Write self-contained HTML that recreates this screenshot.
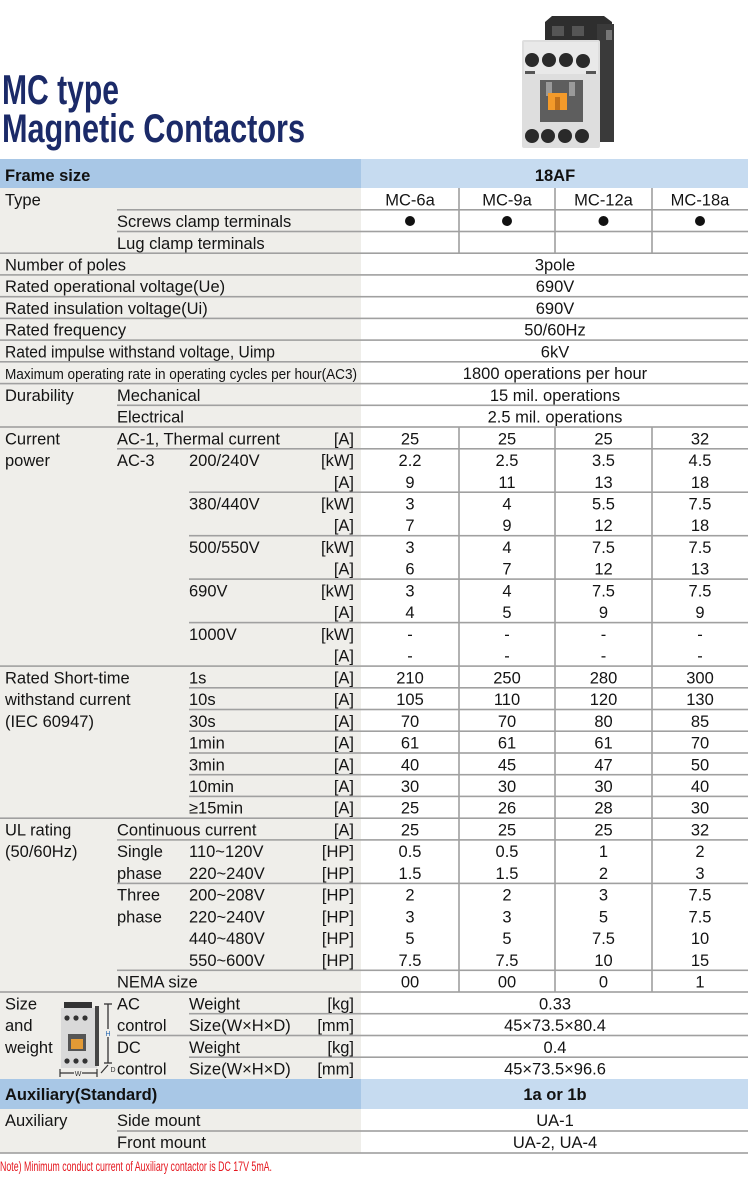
<!DOCTYPE html>
<html><head><meta charset="utf-8">
<style>
html,body{margin:0;padding:0;background:#fff;}
body{width:750px;height:1196px;overflow:hidden;}
svg{display:block;}
.t{font-family:"Liberation Sans",sans-serif;font-size:16.5px;fill:#141414;}
.c{text-anchor:middle;}
.e{text-anchor:end;}
.h{font-family:"Liberation Sans",sans-serif;font-size:16.5px;font-weight:bold;fill:#111;}
</style></head>
<body>
<svg width="750" height="1196" viewBox="0 0 750 1196" xmlns="http://www.w3.org/2000/svg">
<!-- Title -->
<text x="2" y="104" font-family="Liberation Sans, sans-serif" font-weight="bold" font-size="42" fill="#1b2a68" textLength="117" lengthAdjust="spacingAndGlyphs">MC type</text>
<text x="2" y="142" font-family="Liberation Sans, sans-serif" font-weight="bold" font-size="40" fill="#1b2a68" textLength="303" lengthAdjust="spacingAndGlyphs">Magnetic Contactors</text>

<!-- Product image -->
<g>
 <path d="M545 22 L552 16 L604 16 L612 22 L612 47 L545 47 Z" fill="#2e2e2e"/>
 <rect x="552" y="26" width="12" height="10" fill="#555"/>
 <rect x="572" y="26" width="12" height="10" fill="#555"/>
 <rect x="597" y="24" width="17" height="118" fill="#3a3a3a"/>
 <rect x="606" y="30" width="6" height="10" fill="#777"/>
 <rect x="522" y="40" width="78" height="108" fill="#dedede" rx="2"/>
 <rect x="524" y="42" width="74" height="32" fill="#e9e9e9"/>
 <circle cx="532" cy="60" r="7" fill="#2a2a2a"/>
 <circle cx="549" cy="60" r="7" fill="#2a2a2a"/>
 <circle cx="566" cy="60" r="7" fill="#2a2a2a"/>
 <circle cx="583" cy="61" r="7" fill="#2a2a2a"/>
 <rect x="525" y="71" width="10" height="3" fill="#555"/>
 <rect x="586" y="71" width="10" height="3" fill="#555"/>
 <rect x="540" y="80" width="43" height="42" fill="#5e5e5e"/>
 <rect x="546" y="82" width="6" height="14" fill="#9a9a9a"/>
 <rect x="569" y="82" width="6" height="14" fill="#9a9a9a"/>
 <rect x="548" y="93" width="19" height="17" fill="#f39a2a"/>
 <rect x="555" y="97" width="5" height="13" fill="#c0701a"/>
 <circle cx="532" cy="136" r="7" fill="#2a2a2a"/>
 <circle cx="548" cy="136" r="7" fill="#2a2a2a"/>
 <circle cx="565" cy="136" r="7" fill="#2a2a2a"/>
 <circle cx="582" cy="136" r="7" fill="#2a2a2a"/>
</g>

<!-- Frame size header -->
<rect x="0" y="159" width="361" height="29" fill="#a8c7e6"/>
<rect x="361" y="159" width="387" height="29" fill="#c6dbf0"/>
<text class="h" x="5" y="181">Frame size</text>
<text class="h c" x="555" y="181">18AF</text>

<!-- label background -->
<rect x="0" y="188" width="361" height="891" fill="#efeeea"/>
<rect x="0" y="1109" width="361" height="44" fill="#efeeea"/>

<!-- Aux header -->
<rect x="0" y="1079" width="361" height="30" fill="#a8c7e6"/>
<rect x="361" y="1079" width="387" height="30" fill="#c6dbf0"/>
<text class="h" x="5" y="1100">Auxiliary(Standard)</text>
<text class="h c" x="555" y="1100">1a or 1b</text>

<!-- horizontal lines -->
<g fill="#a0a0a0">
<rect x="117" y="209" width="631" height="1.6"/>
<rect x="117" y="230.7" width="631" height="1.6"/>
<rect x="0" y="252.4" width="748" height="1.6"/>
<rect x="0" y="274.1" width="748" height="1.6"/>
<rect x="0" y="295.9" width="748" height="1.6"/>
<rect x="0" y="317.6" width="748" height="1.6"/>
<rect x="0" y="339.3" width="748" height="1.6"/>
<rect x="0" y="361" width="748" height="1.6"/>
<rect x="0" y="382.8" width="748" height="1.6"/>
<rect x="117" y="404.5" width="631" height="1.6"/>
<rect x="0" y="426.2" width="748" height="1.6"/>
<rect x="117" y="448" width="631" height="1.6"/>
<rect x="189" y="491.4" width="559" height="1.6"/>
<rect x="189" y="534.9" width="559" height="1.6"/>
<rect x="189" y="578.3" width="559" height="1.6"/>
<rect x="189" y="621.8" width="559" height="1.6"/>
<rect x="0" y="665.3" width="748" height="1.6"/>
<rect x="189" y="687" width="559" height="1.6"/>
<rect x="189" y="708.7" width="559" height="1.6"/>
<rect x="189" y="730.4" width="559" height="1.6"/>
<rect x="189" y="752.2" width="559" height="1.6"/>
<rect x="189" y="773.9" width="559" height="1.6"/>
<rect x="189" y="795.6" width="559" height="1.6"/>
<rect x="0" y="817.4" width="748" height="1.6"/>
<rect x="117" y="839.1" width="631" height="1.6"/>
<rect x="117" y="882.6" width="631" height="1.6"/>
<rect x="117" y="969.5" width="631" height="1.6"/>
<rect x="0" y="991.2" width="748" height="1.6"/>
<rect x="189" y="1012.9" width="559" height="1.6"/>
<rect x="117" y="1034.7" width="631" height="1.6"/>
<rect x="189" y="1056.4" width="559" height="1.6"/>
<rect x="117" y="1130.2" width="631" height="1.6"/>
<rect x="0" y="1152.2" width="748" height="1.6"/>
</g>
<!-- vertical dividers -->
<g fill="#a0a0a0">
<rect x="458.2" y="188" width="1.6" height="65"/>
<rect x="554.2" y="188" width="1.6" height="65"/>
<rect x="651.2" y="188" width="1.6" height="65"/>
<rect x="458.2" y="427" width="1.6" height="565"/>
<rect x="554.2" y="427" width="1.6" height="565"/>
<rect x="651.2" y="427" width="1.6" height="565"/>
</g>

<!-- Rows -->
<g class="t">
<text class="t" x="5" y="205.3">Type</text>
<text class="t c" x="410" y="205.3">MC-6a</text>
<text class="t c" x="507" y="205.3">MC-9a</text>
<text class="t c" x="603.5" y="205.3">MC-12a</text>
<text class="t c" x="700" y="205.3">MC-18a</text>

<text class="t" x="117" y="227">Screws clamp terminals</text>
<text class="t" x="117" y="248.8">Lug clamp terminals</text>

<text class="t" x="5" y="270.5">Number of poles</text>
<text class="t c" x="555" y="270.5">3pole</text>
<text class="t" x="5" y="292.2">Rated operational voltage(Ue)</text>
<text class="t c" x="555" y="292.2">690V</text>
<text class="t" x="5" y="314">Rated insulation voltage(Ui)</text>
<text class="t c" x="555" y="314">690V</text>
<text class="t" x="5" y="335.7">Rated frequency</text>
<text class="t c" x="555" y="335.7">50/60Hz</text>
<text class="t" x="5" y="357.4" textLength="270" lengthAdjust="spacingAndGlyphs">Rated impulse withstand voltage, Uimp</text>
<text class="t c" x="555" y="357.4">6kV</text>
<text class="t" x="5" y="379.1" style="font-size:15px" textLength="352" lengthAdjust="spacingAndGlyphs">Maximum operating rate in operating cycles per hour(AC3)</text>
<text class="t c" x="555" y="379.1">1800 operations per hour</text>
<text class="t" x="5" y="400.9">Durability</text>
<text class="t" x="117" y="400.9">Mechanical</text>
<text class="t c" x="555" y="400.9">15 mil. operations</text>
<text class="t" x="117" y="422.6">Electrical</text>
<text class="t c" x="555" y="422.6">2.5 mil. operations</text>

<text class="t" x="5" y="444.3">Current</text>
<text class="t" x="117" y="444.3">AC-1, Thermal current</text>
<text class="t e" x="354" y="444.3">[A]</text>
<text class="t c" x="410" y="444.3">25</text><text class="t c" x="507" y="444.3">25</text><text class="t c" x="603.5" y="444.3">25</text><text class="t c" x="700" y="444.3">32</text>

<text class="t" x="5" y="466.1">power</text>
<text class="t" x="117" y="466.1">AC-3</text>
<text class="t" x="189" y="466.1">200/240V</text>
<text class="t e" x="354" y="466.1">[kW]</text>
<text class="t c" x="410" y="466.1">2.2</text><text class="t c" x="507" y="466.1">2.5</text><text class="t c" x="603.5" y="466.1">3.5</text><text class="t c" x="700" y="466.1">4.5</text>
<text class="t e" x="354" y="487.8">[A]</text>
<text class="t c" x="410" y="487.8">9</text><text class="t c" x="507" y="487.8">11</text><text class="t c" x="603.5" y="487.8">13</text><text class="t c" x="700" y="487.8">18</text>

<text class="t" x="189" y="509.5">380/440V</text>
<text class="t e" x="354" y="509.5">[kW]</text>
<text class="t c" x="410" y="509.5">3</text><text class="t c" x="507" y="509.5">4</text><text class="t c" x="603.5" y="509.5">5.5</text><text class="t c" x="700" y="509.5">7.5</text>
<text class="t e" x="354" y="531.2">[A]</text>
<text class="t c" x="410" y="531.2">7</text><text class="t c" x="507" y="531.2">9</text><text class="t c" x="603.5" y="531.2">12</text><text class="t c" x="700" y="531.2">18</text>

<text class="t" x="189" y="553">500/550V</text>
<text class="t e" x="354" y="553">[kW]</text>
<text class="t c" x="410" y="553">3</text><text class="t c" x="507" y="553">4</text><text class="t c" x="603.5" y="553">7.5</text><text class="t c" x="700" y="553">7.5</text>
<text class="t e" x="354" y="574.7">[A]</text>
<text class="t c" x="410" y="574.7">6</text><text class="t c" x="507" y="574.7">7</text><text class="t c" x="603.5" y="574.7">12</text><text class="t c" x="700" y="574.7">13</text>

<text class="t" x="189" y="596.4">690V</text>
<text class="t e" x="354" y="596.4">[kW]</text>
<text class="t c" x="410" y="596.4">3</text><text class="t c" x="507" y="596.4">4</text><text class="t c" x="603.5" y="596.4">7.5</text><text class="t c" x="700" y="596.4">7.5</text>
<text class="t e" x="354" y="618.2">[A]</text>
<text class="t c" x="410" y="618.2">4</text><text class="t c" x="507" y="618.2">5</text><text class="t c" x="603.5" y="618.2">9</text><text class="t c" x="700" y="618.2">9</text>

<text class="t" x="189" y="639.9">1000V</text>
<text class="t e" x="354" y="639.9">[kW]</text>
<text class="t c" x="410" y="639.9">-</text><text class="t c" x="507" y="639.9">-</text><text class="t c" x="603.5" y="639.9">-</text><text class="t c" x="700" y="639.9">-</text>
<text class="t e" x="354" y="661.6">[A]</text>
<text class="t c" x="410" y="661.6">-</text><text class="t c" x="507" y="661.6">-</text><text class="t c" x="603.5" y="661.6">-</text><text class="t c" x="700" y="661.6">-</text>

<text class="t" x="5" y="683.4">Rated Short-time</text>
<text class="t" x="189" y="683.4">1s</text>
<text class="t e" x="354" y="683.4">[A]</text>
<text class="t c" x="410" y="683.4">210</text><text class="t c" x="507" y="683.4">250</text><text class="t c" x="603.5" y="683.4">280</text><text class="t c" x="700" y="683.4">300</text>
<text class="t" x="5" y="705.1">withstand current</text>
<text class="t" x="189" y="705.1">10s</text>
<text class="t e" x="354" y="705.1">[A]</text>
<text class="t c" x="410" y="705.1">105</text><text class="t c" x="507" y="705.1">110</text><text class="t c" x="603.5" y="705.1">120</text><text class="t c" x="700" y="705.1">130</text>
<text class="t" x="5" y="726.8">(IEC 60947)</text>
<text class="t" x="189" y="726.8">30s</text>
<text class="t e" x="354" y="726.8">[A]</text>
<text class="t c" x="410" y="726.8">70</text><text class="t c" x="507" y="726.8">70</text><text class="t c" x="603.5" y="726.8">80</text><text class="t c" x="700" y="726.8">85</text>
<text class="t" x="189" y="748.5">1min</text>
<text class="t e" x="354" y="748.5">[A]</text>
<text class="t c" x="410" y="748.5">61</text><text class="t c" x="507" y="748.5">61</text><text class="t c" x="603.5" y="748.5">61</text><text class="t c" x="700" y="748.5">70</text>
<text class="t" x="189" y="770.3">3min</text>
<text class="t e" x="354" y="770.3">[A]</text>
<text class="t c" x="410" y="770.3">40</text><text class="t c" x="507" y="770.3">45</text><text class="t c" x="603.5" y="770.3">47</text><text class="t c" x="700" y="770.3">50</text>
<text class="t" x="189" y="792">10min</text>
<text class="t e" x="354" y="792">[A]</text>
<text class="t c" x="410" y="792">30</text><text class="t c" x="507" y="792">30</text><text class="t c" x="603.5" y="792">30</text><text class="t c" x="700" y="792">40</text>
<text class="t" x="189" y="813.7">≥15min</text>
<text class="t e" x="354" y="813.7">[A]</text>
<text class="t c" x="410" y="813.7">25</text><text class="t c" x="507" y="813.7">26</text><text class="t c" x="603.5" y="813.7">28</text><text class="t c" x="700" y="813.7">30</text>

<text class="t" x="5" y="835.5">UL rating</text>
<text class="t" x="117" y="835.5">Continuous current</text>
<text class="t e" x="354" y="835.5">[A]</text>
<text class="t c" x="410" y="835.5">25</text><text class="t c" x="507" y="835.5">25</text><text class="t c" x="603.5" y="835.5">25</text><text class="t c" x="700" y="835.5">32</text>
<text class="t" x="5" y="857.2">(50/60Hz)</text>
<text class="t" x="117" y="857.2">Single</text>
<text class="t" x="189" y="857.2">110~120V</text>
<text class="t e" x="354" y="857.2">[HP]</text>
<text class="t c" x="410" y="857.2">0.5</text><text class="t c" x="507" y="857.2">0.5</text><text class="t c" x="603.5" y="857.2">1</text><text class="t c" x="700" y="857.2">2</text>
<text class="t" x="117" y="878.9">phase</text>
<text class="t" x="189" y="878.9">220~240V</text>
<text class="t e" x="354" y="878.9">[HP]</text>
<text class="t c" x="410" y="878.9">1.5</text><text class="t c" x="507" y="878.9">1.5</text><text class="t c" x="603.5" y="878.9">2</text><text class="t c" x="700" y="878.9">3</text>
<text class="t" x="117" y="900.7">Three</text>
<text class="t" x="189" y="900.7">200~208V</text>
<text class="t e" x="354" y="900.7">[HP]</text>
<text class="t c" x="410" y="900.7">2</text><text class="t c" x="507" y="900.7">2</text><text class="t c" x="603.5" y="900.7">3</text><text class="t c" x="700" y="900.7">7.5</text>
<text class="t" x="117" y="922.4">phase</text>
<text class="t" x="189" y="922.4">220~240V</text>
<text class="t e" x="354" y="922.4">[HP]</text>
<text class="t c" x="410" y="922.4">3</text><text class="t c" x="507" y="922.4">3</text><text class="t c" x="603.5" y="922.4">5</text><text class="t c" x="700" y="922.4">7.5</text>
<text class="t" x="189" y="944.1">440~480V</text>
<text class="t e" x="354" y="944.1">[HP]</text>
<text class="t c" x="410" y="944.1">5</text><text class="t c" x="507" y="944.1">5</text><text class="t c" x="603.5" y="944.1">7.5</text><text class="t c" x="700" y="944.1">10</text>
<text class="t" x="189" y="965.9">550~600V</text>
<text class="t e" x="354" y="965.9">[HP]</text>
<text class="t c" x="410" y="965.9">7.5</text><text class="t c" x="507" y="965.9">7.5</text><text class="t c" x="603.5" y="965.9">10</text><text class="t c" x="700" y="965.9">15</text>
<text class="t" x="117" y="987.6">NEMA size</text>
<text class="t c" x="410" y="987.6">00</text><text class="t c" x="507" y="987.6">00</text><text class="t c" x="603.5" y="987.6">0</text><text class="t c" x="700" y="987.6">1</text>

<text class="t" x="5" y="1009.3">Size</text>
<text class="t" x="117" y="1009.3">AC</text>
<text class="t" x="189" y="1009.3">Weight</text>
<text class="t e" x="354" y="1009.3">[kg]</text>
<text class="t c" x="555" y="1009.3">0.33</text>
<text class="t" x="5" y="1031">and</text>
<text class="t" x="117" y="1031">control</text>
<text class="t" x="189" y="1031">Size(W×H×D)</text>
<text class="t e" x="354" y="1031">[mm]</text>
<text class="t c" x="555" y="1031">45×73.5×80.4</text>
<text class="t" x="5" y="1052.8">weight</text>
<text class="t" x="117" y="1052.8">DC</text>
<text class="t" x="189" y="1052.8">Weight</text>
<text class="t e" x="354" y="1052.8">[kg]</text>
<text class="t c" x="555" y="1052.8">0.4</text>
<text class="t" x="117" y="1074.5">control</text>
<text class="t" x="189" y="1074.5">Size(W×H×D)</text>
<text class="t e" x="354" y="1074.5">[mm]</text>
<text class="t c" x="555" y="1074.5">45×73.5×96.6</text>

<text class="t" x="5" y="1126">Auxiliary</text>
<text class="t" x="117" y="1126">Side mount</text>
<text class="t c" x="555" y="1126">UA-1</text>
<text class="t" x="117" y="1148">Front mount</text>
<text class="t c" x="555" y="1148">UA-2, UA-4</text>
</g>

<!-- bullets -->
<g fill="#111">
<circle cx="410" cy="221" r="5"/>
<circle cx="507" cy="221" r="5"/>
<circle cx="603.5" cy="221" r="5"/>
<circle cx="700" cy="221" r="5"/>
</g>

<!-- small icon -->
<g>
 <rect x="64" y="1002" width="28" height="8" fill="#333"/>
 <rect x="61" y="1008" width="36" height="60" fill="#d9d9d9"/>
 <rect x="95" y="1006" width="4" height="60" fill="#444"/>
 <circle cx="67" cy="1018" r="2.6" fill="#333"/><circle cx="76" cy="1018" r="2.6" fill="#333"/><circle cx="85" cy="1018" r="2.6" fill="#333"/>
 <rect x="68" y="1034" width="18" height="17" fill="#555"/>
 <rect x="71" y="1039" width="12" height="10" fill="#e39a35"/>
 <circle cx="67" cy="1061" r="2.6" fill="#333"/><circle cx="76" cy="1061" r="2.6" fill="#333"/><circle cx="85" cy="1061" r="2.6" fill="#333"/>
 <line x1="108" y1="1004" x2="108" y2="1063" stroke="#333" stroke-width="1.3"/>
 <line x1="104" y1="1004" x2="112" y2="1004" stroke="#333" stroke-width="1.3"/>
 <line x1="104" y1="1063" x2="112" y2="1063" stroke="#333" stroke-width="1.3"/>
 <rect x="105" y="1029" width="6" height="8" fill="#efeeea"/>
 <text x="108" y="1036" font-family="Liberation Sans, sans-serif" font-size="7" fill="#2a6ab0" text-anchor="middle">H</text>
 <line x1="60" y1="1073" x2="97" y2="1073" stroke="#333" stroke-width="1.2"/>
 <line x1="60" y1="1069" x2="60" y2="1077" stroke="#333" stroke-width="1.2"/>
 <line x1="97" y1="1069" x2="97" y2="1077" stroke="#333" stroke-width="1.2"/>
 <rect x="74" y="1069" width="8" height="8" fill="#efeeea"/>
 <text x="78" y="1076" font-family="Liberation Sans, sans-serif" font-size="7" fill="#333" text-anchor="middle">W</text>
 <line x1="101" y1="1073" x2="108" y2="1065" stroke="#333" stroke-width="1.2"/>
 <text x="113" y="1072" font-family="Liberation Sans, sans-serif" font-size="7" fill="#333" text-anchor="middle">D</text>
</g>

<!-- note -->
<text x="0" y="1171" font-family="Liberation Sans, sans-serif" font-size="13.5" fill="#e5161e" textLength="272" lengthAdjust="spacingAndGlyphs">Note) Minimum conduct current of Auxiliary contactor is DC 17V 5mA.</text>
</svg>
</body></html>
